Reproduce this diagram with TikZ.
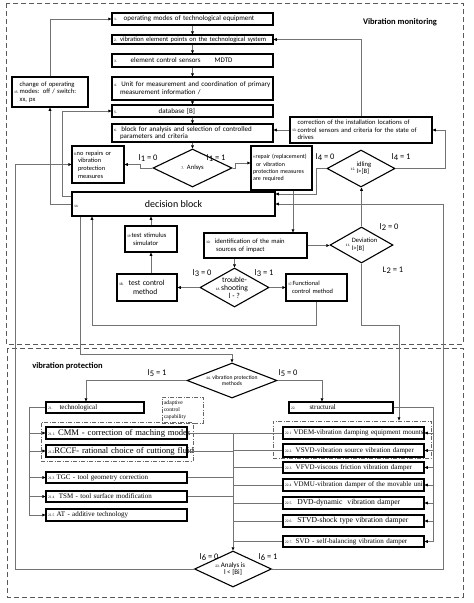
\documentclass[tikz,border=0pt]{standalone}
\usepackage{fontspec}
\setmainfont{Carlito}
\newfontfamily\tnr{Liberation Serif}
\usetikzlibrary{arrows.meta,shapes.geometric,calc}

\newcommand\numf{\fontsize{3.6}{4}\selectfont}
\newcommand\lbl[3]{#1\kern0.3pt\raisebox{-0.8pt}{#2} = #3}

\newcommand\placebox[7][]{%
 \pgfmathsetmacro\pbx{(#3+#5)/2}%
 \pgfmathsetmacro\pby{(#4+#6)/2}%
 \pgfmathsetmacro\pbw{#5-#3}%
 \pgfmathsetmacro\pbh{#6-#4}%
 \pgfmathsetmacro\pbt{#5-#3-4}%
 \node[bx,#1,minimum width=\pbw pt,minimum height=\pbh pt,text width=\pbt pt] (#2) at (\pbx,\pby) {#7};}

\newcommand\placediam[7][]{%
 \pgfmathsetmacro\pda{#5/#6}%
 \node[dm,#1,minimum width=#5pt,minimum height=#6pt,aspect=\pda] (#2) at (#3,#4) {#7};}

\tikzset{
 bx/.style={draw=black, line width=1.1pt, inner xsep=2pt, inner ysep=0.6pt, align=left, font=\fontsize{7}{7.6}\selectfont},
 tbx/.style={bx, font=\tnr\fontsize{7}{7.6}\selectfont},
 dm/.style={draw=black, line width=1.1pt, diamond, inner sep=0pt, align=center, font=\fontsize{6.6}{7.2}\selectfont},
 conn/.style={draw=black!55, line width=0.6pt, -{Triangle[length=3.2pt,width=2.8pt,color=black]}},
 ln/.style={draw=black!55, line width=0.6pt},
 cond/.style={font=\fontsize{8.5}{9}\selectfont, inner sep=0pt},
 frame/.style={draw=black!65, line width=1pt, dash pattern=on 5pt off 3pt},
 grp/.style={draw=black!60, line width=0.9pt, dash pattern=on 4pt off 1.5pt on 1pt off 1.5pt},
 ttl/.style={font=\bfseries\fontsize{8.5}{9}\selectfont, inner sep=0pt},
}

\begin{document}
\begin{tikzpicture}[x=1pt,y=-1pt]
\useasboundingbox (0,0) rectangle (474,603);

% frames
\draw[frame] (6,3) rectangle (463,344);
\draw[frame] (7,348) rectangle (463,597);
\node[ttl] (t1) at (400,22) {Vibration monitoring};
\node[ttl] (t2) at (67.5,366) {vibration protection};

% ---- monitoring boxes
\placebox{b1}{112}{13}{273}{25}{{\numf 1.}\quad operating modes of technological equipment}
\placebox[font=\fontsize{6.6}{7.2}\selectfont]{b2}{112}{35}{273}{44}{\rlap{{\numf 2.} vibration element points on the technological system}}
\placebox{b3}{112}{54}{273}{67}{{\numf 3.}\qquad element control sensors\qquad MDTD}
\placebox{b4}{112}{77}{273}{100}{{\numf 4.}\ \ Unit for measurement and coordination of primary\\\hspace*{6pt}measurement information /}
\placebox{b5}{112}{105}{273}{117}{{\numf 5.}\hspace*{42pt}database [B]}
\placebox{b6}{112}{124}{273}{142}{{\numf 6.}\ \ block for analysis and selection of controlled\\\hspace*{6pt}parameters and criteria}
\placebox[font=\fontsize{6.6}{7.4}\selectfont]{b15}{12}{77}{88}{107}{{\numf 15.}\,\parbox[c]{63pt}{change of operating\\ modes: off / switch:\\ xx, px}}
\placebox[font=\fontsize{6.6}{7.4}\selectfont]{b13}{290}{117}{432}{143}{{\numf 13.}\,\parbox[c]{132pt}{correction of the installation locations of\\ control sensors and criteria for the state of\\ drives}}
\placebox[font=\fontsize{6.4}{7.6}\selectfont]{b8}{72}{146}{124}{183}{{\numf 8.}no repairs or\\\hspace*{4pt}vibration\\\hspace*{4pt}protection\\\hspace*{4pt}measures}
\placebox[font=\fontsize{6}{7.4}\selectfont]{b9}{251}{146}{312}{190}{{\numf 9.}repair (replacement)\\\hspace*{3pt}or vibration\\protection measures\\are required}
\placebox{b14}{72}{192}{275}{216}{{\numf 14.}\hfill{\fontsize{10}{11}\selectfont decision block}\hfill\hphantom{\numf 14.}}
\placebox[font=\fontsize{6.6}{7.6}\selectfont]{b19}{125}{226}{177}{252}{{\numf 19.}test stimulus\\\hspace*{6pt}simulator}
\placebox[font=\fontsize{6.6}{7.6}\selectfont]{b10}{204}{233}{307}{258}{{\numf 10.}\ \ identification of the main\\\hspace*{10pt}sources of impact}
\placebox[font=\fontsize{7.6}{8.6}\selectfont]{b18}{117}{274}{177}{301}{{\numf 18.}\ \ test control\\\hspace*{14pt}method}
\placebox[font=\fontsize{6.4}{7.6}\selectfont]{b17}{286}{274}{347}{301}{{\numf 17.}Functional\\\hspace*{4pt}control method}

\placediam{d7}{192.5}{168}{79}{38}{{\numf 7.}\ \ Anlsys}
\placediam{d12}{361}{168.5}{68}{37}{{\numf 12.}\ \begin{tabular}{@{}l@{}}idling\\ l>[B]\end{tabular}}
\placediam{d11}{361.5}{245}{63}{36}{{\numf 11.}\ \begin{tabular}{@{}l@{}}Deviation\\ l>[B]\end{tabular}}
\placediam[font=\fontsize{7.6}{8}\selectfont]{d16}{234.5}{287.5}{69}{39}{trouble-\\\llap{\numf 16.\ }shooting\\ l - ?}

% ---- protection boxes
\placediam[font=\fontsize{5.6}{6.6}\selectfont]{d20}{232}{380.5}{90}{35}{{\numf 20.}\ vibration protection\\methods}
\placebox[tbx]{b21}{46}{402}{144}{413}{{\numf 21.}\quad technological}
\placebox[tbx]{b22}{289}{402}{393}{413}{{\numf 22.}\qquad structural}
\placebox[tbx,font=\tnr\fontsize{8.6}{9}\selectfont]{b211}{46}{427}{187}{439}{\rlap{{\numf 21.1.}\ CMM - correction of maching modes}}
\placebox[tbx,font=\tnr\fontsize{8.6}{9}\selectfont]{b212}{46}{445}{187}{457}{\rlap{{\numf 21.2}RCCF- rational choice of cuttiong fluid}}
\placebox[tbx]{b213}{46}{472}{187}{483}{\rlap{{\numf 21.3}\ TGC - tool geometry correction}}
\placebox[tbx]{b214}{46}{491}{187}{502}{\rlap{{\numf 21.4}\ \ TSM - tool surface modification}}
\placebox[tbx]{b215}{46}{509}{187}{521}{\rlap{{\numf 21.5}\ AT - additive technology}}
\placebox[tbx]{b221}{283}{427}{424}{439}{\rlap{{\numf 22.1} VDEM-vibration damping equipment mounts}}
\placebox[tbx]{b222}{283}{444}{424}{457}{\rlap{{\numf 22.2.} VSVD-vibration source vibration damper}}
\placebox[tbx]{b223}{283}{462}{424}{473}{\rlap{{\numf 22.3.} VFVD-viscous friction vibration damper}}
\placebox[tbx]{b224}{283}{479}{424}{491}{\rlap{{\numf 22.4} VDMU-vibration damper of the movable unit}}
\placebox[tbx,font=\tnr\fontsize{7.6}{8}\selectfont]{b225}{283}{497}{424}{509}{\rlap{{\numf 22.5.}\ \ DVD-dynamic\ \ vibration damper}}
\placebox[tbx,font=\tnr\fontsize{7.6}{8}\selectfont]{b226}{283}{515}{424}{527}{\rlap{{\numf 22.6.}\ \ STVD-shock type vibration damper}}
\placebox[tbx]{b227}{283}{536}{424}{547}{\rlap{{\numf 22.7.} SVD - self-balancing vibration damper}}
\placebox[grp]{gL}{41}{422}{193}{461}{}
\placebox[grp]{gR}{273}{421}{431}{458}{}
\placebox[grp,font=\tnr\fontsize{5.6}{7}\selectfont]{adp}{162}{397}{203}{423}{adaptive\\control\\capability}
\placediam[font=\fontsize{7}{7.6}\selectfont]{d23}{233}{569}{77}{36}{\llap{\numf 23.\ }Analys is\\ l < [Bi]}

% ---- condition labels
\node[cond] (l1a) at (148,158) {\lbl{l}{1}{0}};
\node[cond] (l1b) at (216,158) {\lbl{l}{1}{1}};
\node[cond] (l4a) at (325,157) {\lbl{l}{4}{0}};
\node[cond] (l4b) at (401,157) {\lbl{l}{4}{1}};
\node[cond] (l2a) at (389,227) {\lbl{l}{2}{0}};
\node[cond] (l2b) at (393,270) {\lbl{L}{2}{1}};
\node[cond] (l3a) at (202,273) {\lbl{l}{3}{0}};
\node[cond] (l3b) at (264,273) {\lbl{l}{3}{1}};
\node[cond] (l5a) at (157,373) {\lbl{l}{5}{1}};
\node[cond] (l5b) at (288,373) {\lbl{l}{5}{0}};
\node[cond] (l6a) at (209,557) {\lbl{l}{6}{0}};
\node[cond] (l6b) at (268,557) {\lbl{l}{6}{1}};

% ---- connectors (monitoring)
\draw[conn] (b1.south) -- (b2.north);
\draw[conn] (b2.south) -- (b3.north);
\draw[conn] (b3.south) -- (b4.north);
\draw[conn] (b4.south) -- (b5.north);
\draw[conn] (b5.south) -- (b6.north);
\draw[conn] (b6.south) -- (d7.north);
\draw[conn] (b15.north) |- (b1.west);
\draw[conn] (b13.north) |- (b2.east);
\draw[conn] (b13.west) -- (b13.west -| b6.east);
\coordinate (xr1) at (445,0);
\draw[conn] (d12.east) -| (xr1 |- b13.east) -- (b13.east);
\draw[conn] (d7.west) -- ++(-12,0) |- (b8.east);
\draw[conn] (d7.east) -- ++(3,0) |- ([yshift=5pt]b9.west);
\draw[conn] (d12.west) -- ++(-10,0) |- ([yshift=10pt]b14.east);
\coordinate (xr2) at (443,0);
\draw[conn] (d23.east) -| (xr2 |- b14.east) -- (b14.east);
\coordinate (xl) at (15,0);
\draw[conn] (d23.west) -| (xl |- b8.west) -- (b8.west);
\coordinate (x5) at (62,0);
\draw[conn] ([yshift=8pt]b14.west) -| (x5 |- b5.west) -- (b5.west);
\draw[conn] (b14.west) -| (b15.south);
\draw[conn] ([xshift=11.5pt]b9.south) -- ([xshift=11.5pt]b9.south |- b10.north);
\draw[conn] (b10.east) -- (b10.east -| d11.west);
\draw[conn] (d11.north) -- (d11.north |- d12.south);
\coordinate (c11) at (399,325);
\draw[conn] (d11.south) |- (c11) -- (c11 |- gR.north);
\draw[conn] (d16.north |- b10.south) -- (d16.north);
\draw[conn] (d16.west) -- (b18.east);
\draw[conn] (d16.east) -- (b17.west);
\draw[conn] (b19.south |- b18.north) -- (b19.south);
\draw[conn] (b19.north) -- (b19.north |- b14.south);
\coordinate (c17) at (92,325);
\draw[conn] (b17.south) |- (c17) -- (c17 |- b14.south);
\coordinate (c14) at (80,354);
\draw[conn] (c14 |- b14.south) -- (c14) -| (d20.north);

% ---- connectors (protection)
\draw[conn] (d20.west) -| ([xshift=-9pt]b21.north);
\draw[conn] (d20.east) -| ([xshift=-19pt]b22.north);
\coordinate (xf) at (29,0);
\draw[ln] (b21.west) -| (xf |- b215.west);
\foreach \n in {b211,b212,b213,b214,b215} \draw[conn] (xf |- \n.west) -- (\n.west);
\coordinate (xg) at (433,0);
\draw[ln] (b22.east) -| (xg |- b227.east);
\foreach \n in {b221,b222,b223,b224,b225,b226,b227} \draw[conn] (xg |- \n.east) -- (\n.east);
\draw[conn] (d23.north |- b211.east) -- (d23.north);
\foreach \n in {b211,b212,b213,b214} \draw[ln] (\n.east) -- (\n.east -| d23.north);
\foreach \n in {b221,b222,b223,b224,b225,b226,b227} \draw[ln] (\n.west -| d23.north) -- (\n.west);
\end{tikzpicture}
\end{document}
